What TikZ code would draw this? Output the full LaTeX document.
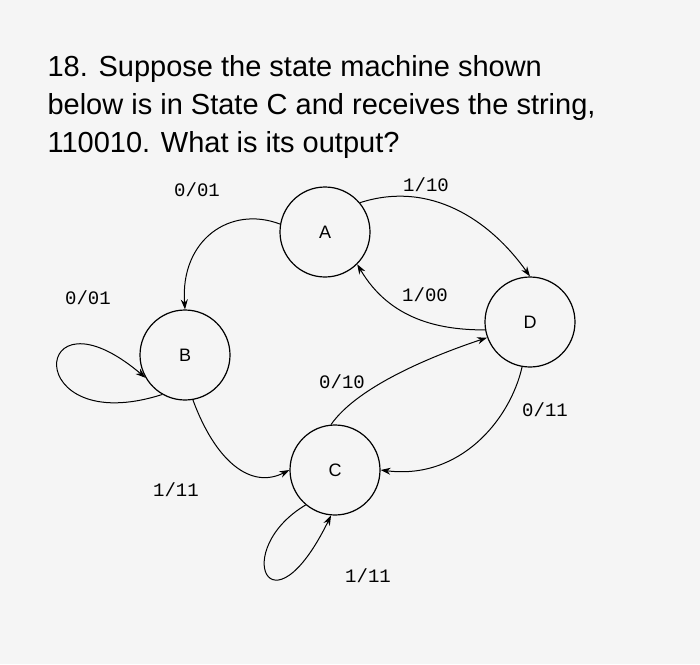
\documentclass[tikz,border=0pt]{standalone}
\usepackage{fontspec}
\setmainfont{Liberation Sans}
\newfontfamily\lblfont{Liberation Mono}
\usetikzlibrary{arrows.meta}
\begin{document}
\begin{tikzpicture}[x=1pt,y=-1pt,
  st/.style={circle,draw,line width=1.2pt,minimum size=90pt,inner sep=0pt,font=\fontsize{18}{20}\selectfont},
  tr/.style={line width=1pt,-{Stealth[length=10pt,width=7pt]}},
  lb/.style={font=\lblfont\fontsize{19}{21}\selectfont}]
\fill[gray!8] (0,0) rectangle (700,664);
\useasboundingbox (0,0) rectangle (700,664);
\node[anchor=north west,align=left,font=\fontsize{29}{38}\selectfont] (q) at (44,52)
 {18. Suppose the state machine shown\\below is in State C and receives the string,\\110010. What is its output?};
\node[st] (A) at (325,232) {A};
\node[st] (B) at (185,355) {B};
\node[st] (C) at (335,470) {C};
\node[st] (D) at (530,322) {D};
\draw[tr] (A.170) .. controls (230,205) and (180,240) .. (B.north);
\draw[tr] (A.40) .. controls (430,180) and (490,220) .. (D.north);
\draw[tr] (D.190) .. controls (440,330) and (390,320) .. (A.-45);
\draw[tr] (B.240) .. controls (20,440) and (30,280) .. (B.210);
\draw[tr] (B.-80) .. controls (215,460) and (250,490) .. (C.west);
\draw[tr] (C.95) .. controls (355,390) and (420,360) .. (D.200);
\draw[tr] (D.-100) .. controls (510,420) and (460,480) .. (C.east);
\draw[tr] (C.230) .. controls (230,550) and (270,640) .. (C.-95);
\node[lb] (l1) at (197,190) {0/01};
\node[lb] (l2) at (426,185) {1/10};
\node[lb] (l3) at (425,295) {1/00};
\node[lb] (l4) at (88,298) {0/01};
\node[lb] (l5) at (342,382) {0/10};
\node[lb] (l6) at (545,410) {0/11};
\node[lb] (l7) at (176,490) {1/11};
\node[lb] (l8) at (368,576) {1/11};
\end{tikzpicture}
\end{document}
